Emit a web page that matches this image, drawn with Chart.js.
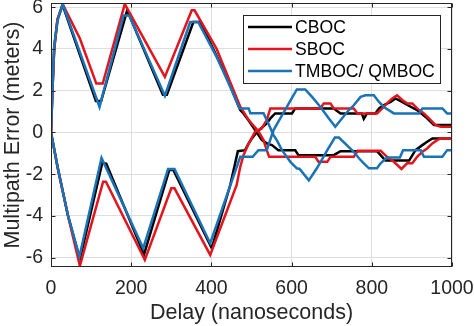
<!DOCTYPE html>
<html>
<head>
<meta charset="utf-8">
<script src="https://cdn.jsdelivr.net/npm/chart.js@4/dist/chart.umd.min.js"></script>
<style>
html, body { margin: 0; padding: 0; background: #fff; }
</style>
</head>
<body>
<canvas id="errChart" width="474" height="326"></canvas>
<script>
// legend names and axis ticks
var seriesNames = ['CBOC', 'SBOC', 'TMBOC/ QMBOC'];
var seriesColors = ['#000000', '#e3141c', '#1a72b8'];
var xTicks = [0, 200, 400, 600, 800, 1000];
var yTicks = [-6, -4, -2, 0, 2, 4, 6];

// [delay ns, error m], one array per envelope line
var cbocUpper = [[0,0],[4,2.2],[8,4.0],[16,5.4],[29,6.1],[112,1.5],[125,1.5],[190,5.85],[279,1.8],[289,1.8],
  [355,5.29],[372,5.29],[438,2.66],[472,1.07],[480,0.91],[492,0.59],[509,0.11],[526,-0.37],[540,-0.55],[551,-0.61],
  [567,-0.85],[609,-0.85],[617,-1.09],[705,-1.09],[722,-0.9],[813,-0.9],[822,-1.09],[834,-1.35],[893,-1.35],
  [909,-0.85],[926,-0.61],[938,-0.45],[951,-0.29],[1000,-0.29]];
var cbocLower = [[0,0],[17,-1.72],[42,-3.96],[72,-6.1],[128,-1.45],[138,-1.5],[232,-5.85],[295,-1.8],[305,-1.8],
  [401,-5.55],[447,-2.52],[466,-0.9],[484,-0.85],[493,-0.53],[501,-0.29],[514,0.03],[538,0.43],[547,0.67],[559,0.91],
  [601,0.91],[609,1.15],[705,1.15],[722,0.91],[775,0.91],[780,0.65],[788,0.91],[809,0.91],[818,1.15],[830,1.31],
  [847,1.46],[859,1.63],[872,1.5],[890,1.3],[913,1.07],[938,0.67],[955,0.35],[1000,0.35]];
var sbocUpper = [[0,0],[4,2.2],[8,4.0],[16,5.4],[29,6.15],[72,4.5],[113,2.34],[129,2.34],[184,6.15],[284,2.66],
  [351,5.85],[358,5.85],[413,4.0],[447,2.4],[472,1.23],[493,0.59],[518,0.03],[530,-0.37],[538,-0.85],[544,-1.17],
  [659,-1.17],[667,-1.41],[689,-1.41],[697,-1.17],[755,-1.17],[765,-0.88],[822,-0.88],[838,-1.17],[855,-1.41],
  [874,-1.75],[888,-1.48],[901,-1.48],[913,-1.17],[926,-0.93],[938,-0.77],[951,-0.53],[963,-0.37],[972,-0.29],[1000,-0.29]];
var sbocLower = [[0,0],[17,-1.72],[42,-3.96],[72,-6.4],[130,-2.36],[137,-2.36],[234,-6.11],[300,-2.68],[308,-2.68],
  [397,-5.87],[463,-2.52],[472,-1.65],[480,-1.09],[493,-0.53],[509,0.03],[526,0.2],[538,0.59],[547,1.15],[672,1.15],
  [680,1.39],[697,1.39],[705,1.15],[755,1.15],[764,0.91],[813,0.91],[826,1.15],[838,1.39],[851,1.63],[863,1.78],
  [876,1.55],[888,1.39],[901,1.39],[913,1.15],[930,0.91],[947,0.59],[959,0.35],[972,0.27],[1000,0.27]];
var tmbocUpper = [[0,0],[4,2.2],[8,4.2],[17,5.4],[29,6.15],[121,1.22],[181,5.6],[195,5.6],[284,1.75],[347,5.29],
  [367,5.29],[413,3.62],[447,2.17],[470,1.15],[493,1.15],[497,0.92],[530,0.92],[542,0.43],[555,-0.13],[563,-0.37],
  [576,-0.85],[597,-1.41],[613,-1.72],[620,-1.75],[643,-2.3],[663,-1.72],[689,-0.85],[708,-0.25],[718,-0.25],
  [755,-0.93],[768,-1.24],[780,-1.48],[793,-1.72],[813,-1.72],[822,-1.48],[838,-1.2],[870,-1.2],[878,-0.85],
  [922,-0.85],[930,-1.17],[976,-1.17],[988,-0.85],[1000,-0.85]];
var tmbocLower = [[0,0],[17,-1.72],[42,-3.96],[71,-5.95],[126,-1.22],[230,-5.55],[292,-1.75],[308,-1.75],
  [397,-5.31],[472,-1.17],[503,-1.17],[517,-0.85],[538,-0.85],[555,0.11],[613,2.06],[634,2.06],[651,1.7],
  [672,1.22],[693,0.67],[709,0.27],[722,0.58],[739,0.99],[755,1.3],[772,1.7],[784,1.78],[805,1.78],[818,1.46],
  [830,1.22],[855,0.91],[918,0.91],[926,1.15],[976,1.15],[988,0.91],[1000,0.91]];

function toPts(arr) {
    return arr.map(function(p) { return {x: p[0], y: p[1]}; });
}

function line(data, color, order) {
    return {
        data: toPts(data),
        borderColor: color,
        borderWidth: 2.5,
        pointRadius: 0,
        fill: false,
        tension: 0,
        order: order
    };
}

var fontFam = '"Liberation Sans", Arial, Helvetica, sans-serif';

// box, inward tick marks and the legend, drawn by hand like matlab does
var boxPlugin = {
    id: 'boxLegend',
    afterDraw: function(chart) {
        var ctx = chart.ctx, a = chart.chartArea;
        var xs = chart.scales.x, ys = chart.scales.y;
        ctx.save();
        ctx.strokeStyle = '#262626';
        ctx.lineWidth = 1;
        var L = Math.round(a.left) + 0.5, R = Math.round(a.right) - 0.5;
        var T = Math.round(a.top) + 0.5, B = Math.round(a.bottom) - 0.5;
        ctx.strokeRect(L, T, R - L, B - T);
        ctx.beginPath();
        xTicks.forEach(function(v) {
            var px = Math.round(xs.getPixelForValue(v)) + 0.5;
            ctx.moveTo(px, B); ctx.lineTo(px, B - 4);
            ctx.moveTo(px, T); ctx.lineTo(px, T + 4);
        });
        yTicks.forEach(function(v) {
            var py = Math.round(ys.getPixelForValue(v)) + 0.5;
            ctx.moveTo(L, py); ctx.lineTo(L + 4, py);
            ctx.moveTo(R, py); ctx.lineTo(R - 4, py);
        });
        ctx.stroke();

        // legend
        var lx = 243.5, ly = 15.5, lw = 197, lh = 68;
        ctx.fillStyle = '#ffffff';
        ctx.fillRect(lx, ly, lw, lh);
        ctx.strokeStyle = '#262626';
        ctx.strokeRect(lx, ly, lw, lh);
        ctx.font = '17.6px ' + fontFam;
        ctx.textBaseline = 'middle';
        ctx.textAlign = 'left';
        for (var i = 0; i < seriesNames.length; i++) {
            var yy = 27 + i * 22;
            ctx.strokeStyle = seriesColors[i];
            ctx.lineWidth = 2.5;
            ctx.beginPath();
            ctx.moveTo(248, yy);
            ctx.lineTo(292, yy);
            ctx.stroke();
            ctx.fillStyle = '#000000';
            ctx.fillText(seriesNames[i], 295, yy + 1);
        }
        ctx.restore();
    }
};

var ctx = document.getElementById('errChart').getContext('2d');
var errChart = new Chart(ctx, {
    type: 'line',
    data: {
        datasets: [
            line(cbocUpper, seriesColors[0], 3),
            line(cbocLower, seriesColors[0], 3),
            line(sbocUpper, seriesColors[1], 2),
            line(sbocLower, seriesColors[1], 2),
            line(tmbocUpper, seriesColors[2], 1),
            line(tmbocLower, seriesColors[2], 1)
        ]
    },
    options: {
        responsive: false,
        animation: false,
        layout: { padding: { top: 3, right: 22, left: 0, bottom: 0 } },
        plugins: {
            legend: { display: false },
            tooltip: { enabled: false }
        },
        scales: {
            x: {
                type: 'linear',
                min: 0,
                max: 1000,
                afterBuildTicks: function(scale) {
                    scale.ticks = xTicks.map(function(v) { return {value: v}; });
                },
                afterFit: function(scale) {
                    scale.height = 59;
                    scale.paddingLeft = 0;
                    scale.paddingRight = 0;
                },
                grid: { color: '#dedede', drawTicks: false },
                border: { display: false },
                ticks: {
                    padding: 10,
                    maxRotation: 0,
                    color: '#262626',
                    font: { family: fontFam, size: 19.5 },
                    callback: function(v) { return String(v); }
                },
                title: {
                    display: true,
                    text: 'Delay (nanoseconds)',
                    color: '#262626',
                    padding: 0,
                    font: { family: fontFam, size: 21.5, lineHeight: 1.2 }
                }
            },
            y: {
                type: 'linear',
                min: -6.45,
                max: 6.2,
                afterBuildTicks: function(scale) {
                    scale.ticks = yTicks.map(function(v) { return {value: v}; });
                },
                afterFit: function(scale) {
                    scale.width = 51;
                    scale.paddingTop = 0;
                    scale.paddingBottom = 0;
                },
                grid: { color: '#dedede', drawTicks: false },
                border: { display: false },
                ticks: {
                    padding: 8,
                    color: '#262626',
                    font: { family: fontFam, size: 19.5 },
                    callback: function(v) { return String(v); }
                },
                title: {
                    display: true,
                    text: 'Multipath Error (meters)',
                    color: '#262626',
                    padding: 0,
                    font: { family: fontFam, size: 21.5, lineHeight: 1.2 }
                }
            }
        }
    },
    plugins: [boxPlugin]
});
</script>
</body>
</html>
